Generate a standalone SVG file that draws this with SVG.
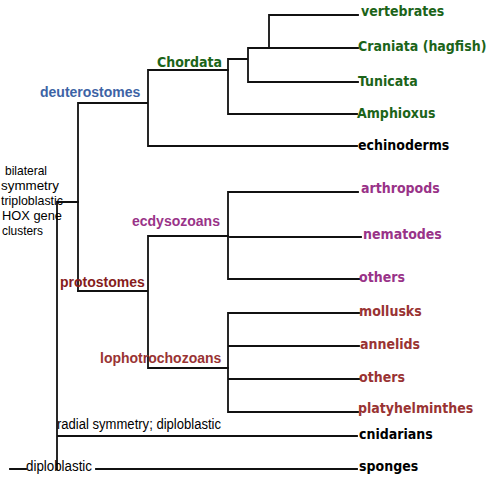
<svg xmlns="http://www.w3.org/2000/svg" width="488" height="477" viewBox="0 0 488 477">
<style>
.ln{stroke:#111;stroke-width:1.8;fill:none;stroke-linecap:square}
.tip{font-family:"DejaVu Sans Condensed","DejaVu Sans",sans-serif;font-stretch:condensed;font-weight:bold;font-size:14px}
.clade{font-family:"Liberation Sans",Arial,sans-serif;font-weight:bold;font-size:14px}
.note{font-family:"Liberation Sans",Arial,sans-serif;font-size:14px;fill:#000}
.stack{font-size:13px}
.grn{fill:#1c6419}
.blu{fill:#3d63a5}
.pur{fill:#993388}
.red{fill:#993333}
.dred{fill:#861c1c}
.blk{fill:#000}
</style>
<rect width="488" height="477" fill="#fff"/>
<g id="connectors" class="ln">
<path d="M10 469H26M96 469H357"/>
<path d="M57 202V469M57 436H357M57 202H78"/>
<path d="M78 103V291M78 103H148M148 70V146M148 70H228M148 146H357"/>
<path d="M228 59V114M228 114H357M228 59H248M248 48V82M248 82H358M248 48H358M269 15V48M269 15H358"/>
<path d="M78 291H148M148 236V368M148 236H228M148 368H228"/>
<path d="M228 192V279M228 192H358M230 237H361M228 279H360"/>
<path d="M228 313V412M228 313H359M228 346H359M228 379H359M228 412H358"/>
</g>
<g id="vertebrates"><text class="tip grn" x="361" y="16">vertebrates</text></g>
<g id="craniata"><text class="tip grn" x="358" y="51">Craniata (hagfish)</text></g>
<g id="tunicata"><text class="tip grn" x="358" y="86">Tunicata</text></g>
<g id="amphioxus"><text class="tip grn" x="357" y="118">Amphioxus</text></g>
<g id="echinoderms"><text class="tip blk" x="358" y="150">echinoderms</text></g>
<g id="chordata"><text class="tip grn" x="157" y="67">Chordata</text></g>
<g id="deuterostomes"><text class="clade blu" x="40" y="97">deuterostomes</text></g>
<g id="bilateria">
<text class="note stack" x="5" y="175" textLength="42" lengthAdjust="spacingAndGlyphs">bilateral</text>
<text class="note stack" x="1" y="190" textLength="58" lengthAdjust="spacingAndGlyphs">symmetry</text>
<text class="note stack" x="1" y="205" textLength="62" lengthAdjust="spacingAndGlyphs">triploblastic</text>
<text class="note stack" x="2" y="220" textLength="60" lengthAdjust="spacingAndGlyphs">HOX gene</text>
<text class="note stack" x="2" y="235" textLength="41" lengthAdjust="spacingAndGlyphs">clusters</text>
</g>
<g id="ecdysozoans"><text class="clade pur" x="132" y="226">ecdysozoans</text></g>
<g id="arthropods"><text class="tip pur" x="361" y="193">arthropods</text></g>
<g id="nematodes"><text class="tip pur" x="363" y="239">nematodes</text></g>
<g id="others-ecd"><text class="tip pur" x="359" y="282">others</text></g>
<g id="protostomes"><text class="clade dred" x="60" y="287">protostomes</text></g>
<g id="lophotrochozoans"><text class="clade red" x="100" y="363">lophotrochozoans</text></g>
<g id="mollusks"><text class="tip red" x="359" y="316">mollusks</text></g>
<g id="annelids"><text class="tip red" x="360" y="349">annelids</text></g>
<g id="others-loph"><text class="tip red" x="359" y="382">others</text></g>
<g id="platyhelminthes"><text class="tip red" x="358" y="413">platyhelminthes</text></g>
<g id="radiata"><text class="note" x="57" y="429" textLength="164" lengthAdjust="spacingAndGlyphs">radial symmetry; diploblastic</text></g>
<g id="cnidarians"><text class="tip blk" x="359" y="439">cnidarians</text></g>
<g id="diploblastic"><text class="note" x="26" y="471" textLength="66" lengthAdjust="spacingAndGlyphs">diploblastic</text></g>
<g id="sponges"><text class="tip blk" x="359" y="471">sponges</text></g>
</svg>
